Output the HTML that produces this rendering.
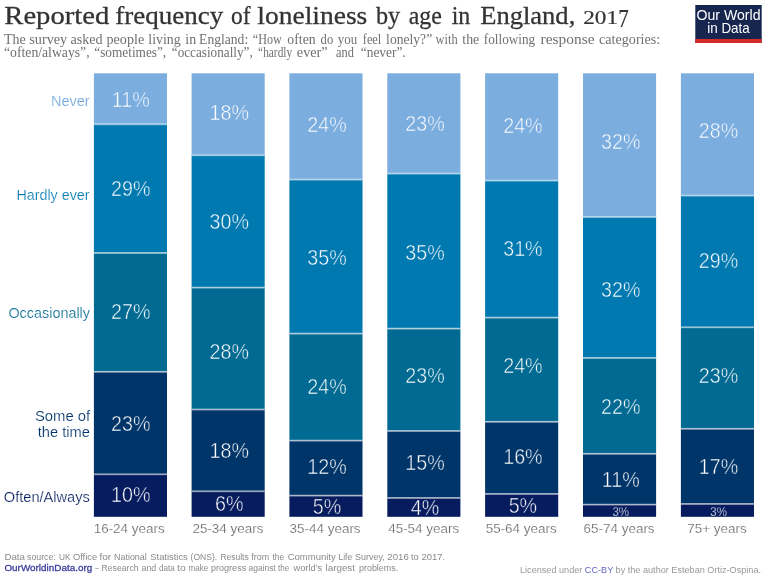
<!DOCTYPE html>
<html lang="en"><head><meta charset="utf-8"><title>Reported frequency of loneliness by age in England, 2017</title>
<style>
html,body{margin:0;padding:0;background:#fff;}
body{width:768px;height:577px;overflow:hidden;position:relative;font-family:"Liberation Sans",sans-serif;}
svg{position:absolute;left:0;top:0;display:block}
.t{font-family:"Liberation Serif",serif;}
.s{font-family:"Liberation Sans",sans-serif;}
</style></head><body>
<svg width="768" height="577" viewBox="0 0 768 577">
<rect width="768" height="577" fill="#fff"/>
<text class="t" x="4.3" y="23.7" font-size="25" fill="#333" stroke="#333" stroke-width="0.28" textLength="105.0" lengthAdjust="spacingAndGlyphs">Reported</text>
<text class="t" x="115.3" y="23.7" font-size="25" fill="#333" stroke="#333" stroke-width="0.28" textLength="108.0" lengthAdjust="spacingAndGlyphs">frequency</text>
<text class="t" x="231.0" y="23.7" font-size="25" fill="#333" stroke="#333" stroke-width="0.28" textLength="19.5" lengthAdjust="spacingAndGlyphs">of</text>
<text class="t" x="257.3" y="23.7" font-size="25" fill="#333" stroke="#333" stroke-width="0.28" textLength="110.0" lengthAdjust="spacingAndGlyphs">loneliness</text>
<text class="t" x="376.0" y="23.7" font-size="25" fill="#333" stroke="#333" stroke-width="0.28" textLength="24.2" lengthAdjust="spacingAndGlyphs">by</text>
<text class="t" x="408.7" y="23.7" font-size="25" fill="#333" stroke="#333" stroke-width="0.28" textLength="33.1" lengthAdjust="spacingAndGlyphs">age</text>
<text class="t" x="451.7" y="23.7" font-size="25" fill="#333" stroke="#333" stroke-width="0.28" textLength="18.6" lengthAdjust="spacingAndGlyphs">in</text>
<text class="t" x="480.2" y="23.7" font-size="25" fill="#333" stroke="#333" stroke-width="0.28" textLength="95.1" lengthAdjust="spacingAndGlyphs">England,</text>
<text class="t" x="583.2" y="23.7" font-size="18.6" fill="#333" stroke="#333" stroke-width="0.18" textLength="34.8" lengthAdjust="spacingAndGlyphs">201</text>
<text class="t" x="618.3" y="27.4" font-size="24.4" fill="#333" stroke="#333" stroke-width="0.18" textLength="10.5" lengthAdjust="spacingAndGlyphs">7</text>
<text class="t" x="3.9" y="43.6" font-size="13.8" fill="#707070"  textLength="21.7" lengthAdjust="spacingAndGlyphs">The</text>
<text class="t" x="29.3" y="43.6" font-size="13.8" fill="#707070"  textLength="37.9" lengthAdjust="spacingAndGlyphs">survey</text>
<text class="t" x="70.5" y="43.6" font-size="13.8" fill="#707070"  textLength="32.2" lengthAdjust="spacingAndGlyphs">asked</text>
<text class="t" x="106.5" y="43.6" font-size="13.8" fill="#707070"  textLength="37.7" lengthAdjust="spacingAndGlyphs">people</text>
<text class="t" x="148.3" y="43.6" font-size="13.8" fill="#707070"  textLength="32.4" lengthAdjust="spacingAndGlyphs">living</text>
<text class="t" x="185.3" y="43.6" font-size="13.8" fill="#707070"  textLength="10.9" lengthAdjust="spacingAndGlyphs">in</text>
<text class="t" x="199.1" y="43.6" font-size="13.8" fill="#707070"  textLength="49.1" lengthAdjust="spacingAndGlyphs">England:</text>
<text class="t" x="252.8" y="43.6" font-size="13.8" fill="#707070"  textLength="28.9" lengthAdjust="spacingAndGlyphs">“How</text>
<text class="t" x="287.3" y="43.6" font-size="13.8" fill="#707070"  textLength="28.4" lengthAdjust="spacingAndGlyphs">often</text>
<text class="t" x="320.6" y="43.6" font-size="13.8" fill="#707070"  textLength="12.6" lengthAdjust="spacingAndGlyphs">do</text>
<text class="t" x="337.8" y="43.6" font-size="13.8" fill="#707070"  textLength="19.4" lengthAdjust="spacingAndGlyphs">you</text>
<text class="t" x="362.8" y="43.6" font-size="13.8" fill="#707070"  textLength="18.4" lengthAdjust="spacingAndGlyphs">feel</text>
<text class="t" x="386.1" y="43.6" font-size="13.8" fill="#707070"  textLength="46.1" lengthAdjust="spacingAndGlyphs">lonely?”</text>
<text class="t" x="435.6" y="43.6" font-size="13.8" fill="#707070"  textLength="22.1" lengthAdjust="spacingAndGlyphs">with</text>
<text class="t" x="462.3" y="43.6" font-size="13.8" fill="#707070"  textLength="16.9" lengthAdjust="spacingAndGlyphs">the</text>
<text class="t" x="483.8" y="43.6" font-size="13.8" fill="#707070"  textLength="51.4" lengthAdjust="spacingAndGlyphs">following</text>
<text class="t" x="540.6" y="43.6" font-size="13.8" fill="#707070"  textLength="54.1" lengthAdjust="spacingAndGlyphs">response</text>
<text class="t" x="599.1" y="43.6" font-size="13.8" fill="#707070"  textLength="61.1" lengthAdjust="spacingAndGlyphs">categories:</text>
<text class="t" x="4.0" y="57.0" font-size="13.8" fill="#707070"  textLength="85.6" lengthAdjust="spacingAndGlyphs">“often/always”,</text>
<text class="t" x="94.3" y="57.0" font-size="13.8" fill="#707070"  textLength="71.9" lengthAdjust="spacingAndGlyphs">“sometimes”,</text>
<text class="t" x="171.8" y="57.0" font-size="13.8" fill="#707070"  textLength="80.9" lengthAdjust="spacingAndGlyphs">“occasionally”,</text>
<text class="t" x="258.1" y="57.0" font-size="13.8" fill="#707070"  textLength="34.1" lengthAdjust="spacingAndGlyphs">“hardly</text>
<text class="t" x="296.8" y="57.0" font-size="13.8" fill="#707070"  textLength="30.9" lengthAdjust="spacingAndGlyphs">ever”</text>
<text class="t" x="336.1" y="57.0" font-size="13.8" fill="#707070"  textLength="17.9" lengthAdjust="spacingAndGlyphs">and</text>
<text class="t" x="360.8" y="57.0" font-size="13.8" fill="#707070"  textLength="44.9" lengthAdjust="spacingAndGlyphs">“never”.</text>
<rect x="695.3" y="5" width="66.4" height="38" fill="#17264f"/>
<rect x="695.3" y="39" width="66.4" height="4" fill="#d62b2b"/>
<text class="s" x="728.5" y="19.6" font-size="13.9" fill="#fff" text-anchor="middle" textLength="64" lengthAdjust="spacingAndGlyphs">Our World</text>
<text class="s" x="728.5" y="33.3" font-size="13.9" fill="#fff" text-anchor="middle" textLength="42.5" lengthAdjust="spacingAndGlyphs">in Data</text>
<rect x="93.9" y="73.3" width="73.1" height="50.7" fill="#7baddf"/>
<rect x="93.9" y="124.0" width="73.1" height="128.7" fill="#0079b0"/>
<rect x="93.9" y="252.7" width="73.1" height="118.8" fill="#006a92"/>
<rect x="93.9" y="371.5" width="73.1" height="102.5" fill="#00356a"/>
<rect x="93.9" y="474.0" width="73.1" height="42.8" fill="#061c5e"/>
<rect x="93.9" y="123.45" width="73.1" height="1.7" fill="#fff" fill-opacity="0.6"/>
<rect x="93.9" y="252.15" width="73.1" height="1.7" fill="#fff" fill-opacity="0.6"/>
<rect x="93.9" y="370.95" width="73.1" height="1.7" fill="#fff" fill-opacity="0.6"/>
<rect x="93.9" y="473.45" width="73.1" height="1.7" fill="#fff" fill-opacity="0.6"/>
<text class="s" transform="translate(130.8,106.8) scale(0.93,1)" font-size="21.2" fill="#fff" stroke="#7baddf" stroke-width="0.5" text-anchor="middle">11%</text>
<text class="s" transform="translate(130.8,195.5) scale(0.93,1)" font-size="21.2" fill="#fff" stroke="#0079b0" stroke-width="0.5" text-anchor="middle">29%</text>
<text class="s" transform="translate(130.8,318.8) scale(0.93,1)" font-size="21.2" fill="#fff" stroke="#006a92" stroke-width="0.5" text-anchor="middle">27%</text>
<text class="s" transform="translate(130.8,430.9) scale(0.93,1)" font-size="21.2" fill="#fff" stroke="#00356a" stroke-width="0.5" text-anchor="middle">23%</text>
<text class="s" transform="translate(130.8,502.3) scale(0.93,1)" font-size="21.2" fill="#fff" stroke="#061c5e" stroke-width="0.5" text-anchor="middle">10%</text>
<text class="s" x="129.2" y="532.6" font-size="13.45" fill="#666" stroke="#fff" stroke-width="0.2" text-anchor="middle">16-24 years</text>
<rect x="191.6" y="73.3" width="73.1" height="81.7" fill="#7baddf"/>
<rect x="191.6" y="155.0" width="73.1" height="132.3" fill="#0079b0"/>
<rect x="191.6" y="287.3" width="73.1" height="121.9" fill="#006a92"/>
<rect x="191.6" y="409.2" width="73.1" height="81.8" fill="#00356a"/>
<rect x="191.6" y="491.0" width="73.1" height="25.8" fill="#061c5e"/>
<rect x="191.6" y="154.45" width="73.1" height="1.7" fill="#fff" fill-opacity="0.6"/>
<rect x="191.6" y="286.75" width="73.1" height="1.7" fill="#fff" fill-opacity="0.6"/>
<rect x="191.6" y="408.65" width="73.1" height="1.7" fill="#fff" fill-opacity="0.6"/>
<rect x="191.6" y="490.45" width="73.1" height="1.7" fill="#fff" fill-opacity="0.6"/>
<text class="s" transform="translate(229.3,119.9) scale(0.93,1)" font-size="21.2" fill="#fff" stroke="#7baddf" stroke-width="0.5" text-anchor="middle">18%</text>
<text class="s" transform="translate(229.3,228.9) scale(0.93,1)" font-size="21.2" fill="#fff" stroke="#0079b0" stroke-width="0.5" text-anchor="middle">30%</text>
<text class="s" transform="translate(229.3,358.9) scale(0.93,1)" font-size="21.2" fill="#fff" stroke="#006a92" stroke-width="0.5" text-anchor="middle">28%</text>
<text class="s" transform="translate(229.3,457.9) scale(0.93,1)" font-size="21.2" fill="#fff" stroke="#00356a" stroke-width="0.5" text-anchor="middle">18%</text>
<text class="s" transform="translate(229.3,511.3) scale(0.93,1)" font-size="21.2" fill="#fff" stroke="#061c5e" stroke-width="0.5" text-anchor="middle">6%</text>
<text class="s" x="227.9" y="532.6" font-size="13.45" fill="#666" stroke="#fff" stroke-width="0.2" text-anchor="middle">25-34 years</text>
<rect x="289.4" y="73.3" width="73.1" height="106.0" fill="#7baddf"/>
<rect x="289.4" y="179.3" width="73.1" height="154.0" fill="#0079b0"/>
<rect x="289.4" y="333.3" width="73.1" height="107.0" fill="#006a92"/>
<rect x="289.4" y="440.3" width="73.1" height="55.0" fill="#00356a"/>
<rect x="289.4" y="495.3" width="73.1" height="21.5" fill="#061c5e"/>
<rect x="289.4" y="178.75" width="73.1" height="1.7" fill="#fff" fill-opacity="0.6"/>
<rect x="289.4" y="332.75" width="73.1" height="1.7" fill="#fff" fill-opacity="0.6"/>
<rect x="289.4" y="439.75" width="73.1" height="1.7" fill="#fff" fill-opacity="0.6"/>
<rect x="289.4" y="494.75" width="73.1" height="1.7" fill="#fff" fill-opacity="0.6"/>
<text class="s" transform="translate(327.1,131.6) scale(0.93,1)" font-size="21.2" fill="#fff" stroke="#7baddf" stroke-width="0.5" text-anchor="middle">24%</text>
<text class="s" transform="translate(327.1,264.6) scale(0.93,1)" font-size="21.2" fill="#fff" stroke="#0079b0" stroke-width="0.5" text-anchor="middle">35%</text>
<text class="s" transform="translate(327.1,393.9) scale(0.93,1)" font-size="21.2" fill="#fff" stroke="#006a92" stroke-width="0.5" text-anchor="middle">24%</text>
<text class="s" transform="translate(327.1,473.9) scale(0.93,1)" font-size="21.2" fill="#fff" stroke="#00356a" stroke-width="0.5" text-anchor="middle">12%</text>
<text class="s" transform="translate(327.1,513.9) scale(0.93,1)" font-size="21.2" fill="#fff" stroke="#061c5e" stroke-width="0.5" text-anchor="middle">5%</text>
<text class="s" x="325.1" y="532.6" font-size="13.45" fill="#666" stroke="#fff" stroke-width="0.2" text-anchor="middle">35-44 years</text>
<rect x="387.3" y="73.3" width="73.1" height="100.0" fill="#7baddf"/>
<rect x="387.3" y="173.3" width="73.1" height="155.0" fill="#0079b0"/>
<rect x="387.3" y="328.3" width="73.1" height="102.4" fill="#006a92"/>
<rect x="387.3" y="430.7" width="73.1" height="67.0" fill="#00356a"/>
<rect x="387.3" y="497.7" width="73.1" height="19.1" fill="#061c5e"/>
<rect x="387.3" y="172.75" width="73.1" height="1.7" fill="#fff" fill-opacity="0.6"/>
<rect x="387.3" y="327.75" width="73.1" height="1.7" fill="#fff" fill-opacity="0.6"/>
<rect x="387.3" y="430.15" width="73.1" height="1.7" fill="#fff" fill-opacity="0.6"/>
<rect x="387.3" y="497.15" width="73.1" height="1.7" fill="#fff" fill-opacity="0.6"/>
<text class="s" transform="translate(425.1,130.6) scale(0.93,1)" font-size="21.2" fill="#fff" stroke="#7baddf" stroke-width="0.5" text-anchor="middle">23%</text>
<text class="s" transform="translate(425.1,259.6) scale(0.93,1)" font-size="21.2" fill="#fff" stroke="#0079b0" stroke-width="0.5" text-anchor="middle">35%</text>
<text class="s" transform="translate(425.1,382.9) scale(0.93,1)" font-size="21.2" fill="#fff" stroke="#006a92" stroke-width="0.5" text-anchor="middle">23%</text>
<text class="s" transform="translate(425.1,469.9) scale(0.93,1)" font-size="21.2" fill="#fff" stroke="#00356a" stroke-width="0.5" text-anchor="middle">15%</text>
<text class="s" transform="translate(425.1,514.9) scale(0.93,1)" font-size="21.2" fill="#fff" stroke="#061c5e" stroke-width="0.5" text-anchor="middle">4%</text>
<text class="s" x="423.7" y="532.6" font-size="13.45" fill="#666" stroke="#fff" stroke-width="0.2" text-anchor="middle">45-54 years</text>
<rect x="485.1" y="73.3" width="73.1" height="107.0" fill="#7baddf"/>
<rect x="485.1" y="180.3" width="73.1" height="137.0" fill="#0079b0"/>
<rect x="485.1" y="317.3" width="73.1" height="104.2" fill="#006a92"/>
<rect x="485.1" y="421.5" width="73.1" height="72.2" fill="#00356a"/>
<rect x="485.1" y="493.7" width="73.1" height="23.1" fill="#061c5e"/>
<rect x="485.1" y="179.75" width="73.1" height="1.7" fill="#fff" fill-opacity="0.6"/>
<rect x="485.1" y="316.75" width="73.1" height="1.7" fill="#fff" fill-opacity="0.6"/>
<rect x="485.1" y="420.95" width="73.1" height="1.7" fill="#fff" fill-opacity="0.6"/>
<rect x="485.1" y="493.15" width="73.1" height="1.7" fill="#fff" fill-opacity="0.6"/>
<text class="s" transform="translate(522.9,133.3) scale(0.93,1)" font-size="21.2" fill="#fff" stroke="#7baddf" stroke-width="0.5" text-anchor="middle">24%</text>
<text class="s" transform="translate(522.9,255.6) scale(0.93,1)" font-size="21.2" fill="#fff" stroke="#0079b0" stroke-width="0.5" text-anchor="middle">31%</text>
<text class="s" transform="translate(522.9,372.9) scale(0.93,1)" font-size="21.2" fill="#fff" stroke="#006a92" stroke-width="0.5" text-anchor="middle">24%</text>
<text class="s" transform="translate(522.9,464.1) scale(0.93,1)" font-size="21.2" fill="#fff" stroke="#00356a" stroke-width="0.5" text-anchor="middle">16%</text>
<text class="s" transform="translate(522.9,512.9) scale(0.93,1)" font-size="21.2" fill="#fff" stroke="#061c5e" stroke-width="0.5" text-anchor="middle">5%</text>
<text class="s" x="521.2" y="532.6" font-size="13.45" fill="#666" stroke="#fff" stroke-width="0.2" text-anchor="middle">55-64 years</text>
<rect x="583.0" y="73.3" width="73.1" height="143.4" fill="#7baddf"/>
<rect x="583.0" y="216.7" width="73.1" height="141.0" fill="#0079b0"/>
<rect x="583.0" y="357.7" width="73.1" height="95.8" fill="#006a92"/>
<rect x="583.0" y="453.5" width="73.1" height="50.8" fill="#00356a"/>
<rect x="583.0" y="504.3" width="73.1" height="12.5" fill="#061c5e"/>
<rect x="583.0" y="216.15" width="73.1" height="1.7" fill="#fff" fill-opacity="0.6"/>
<rect x="583.0" y="357.15" width="73.1" height="1.7" fill="#fff" fill-opacity="0.6"/>
<rect x="583.0" y="452.95" width="73.1" height="1.7" fill="#fff" fill-opacity="0.6"/>
<rect x="583.0" y="503.75" width="73.1" height="1.7" fill="#fff" fill-opacity="0.6"/>
<text class="s" transform="translate(620.8,148.9) scale(0.93,1)" font-size="21.2" fill="#fff" stroke="#7baddf" stroke-width="0.5" text-anchor="middle">32%</text>
<text class="s" transform="translate(620.8,297.3) scale(0.93,1)" font-size="21.2" fill="#fff" stroke="#0079b0" stroke-width="0.5" text-anchor="middle">32%</text>
<text class="s" transform="translate(620.8,413.9) scale(0.93,1)" font-size="21.2" fill="#fff" stroke="#006a92" stroke-width="0.5" text-anchor="middle">22%</text>
<text class="s" transform="translate(620.8,487.3) scale(0.93,1)" font-size="21.2" fill="#fff" stroke="#00356a" stroke-width="0.5" text-anchor="middle">11%</text>
<text class="s" transform="translate(620.8,516.2) scale(0.93,1)" font-size="12.4" fill="#fff" stroke="#061c5e" stroke-width="0.3" text-anchor="middle">3%</text>
<text class="s" x="619.1" y="532.6" font-size="13.45" fill="#666" stroke="#fff" stroke-width="0.2" text-anchor="middle">65-74 years</text>
<rect x="680.9" y="73.3" width="73.1" height="122.0" fill="#7baddf"/>
<rect x="680.9" y="195.3" width="73.1" height="131.7" fill="#0079b0"/>
<rect x="680.9" y="327.0" width="73.1" height="101.5" fill="#006a92"/>
<rect x="680.9" y="428.5" width="73.1" height="75.2" fill="#00356a"/>
<rect x="680.9" y="503.7" width="73.1" height="13.1" fill="#061c5e"/>
<rect x="680.9" y="194.75" width="73.1" height="1.7" fill="#fff" fill-opacity="0.6"/>
<rect x="680.9" y="326.45" width="73.1" height="1.7" fill="#fff" fill-opacity="0.6"/>
<rect x="680.9" y="427.95" width="73.1" height="1.7" fill="#fff" fill-opacity="0.6"/>
<rect x="680.9" y="503.15" width="73.1" height="1.7" fill="#fff" fill-opacity="0.6"/>
<text class="s" transform="translate(718.6,137.9) scale(0.93,1)" font-size="21.2" fill="#fff" stroke="#7baddf" stroke-width="0.5" text-anchor="middle">28%</text>
<text class="s" transform="translate(718.6,267.9) scale(0.93,1)" font-size="21.2" fill="#fff" stroke="#0079b0" stroke-width="0.5" text-anchor="middle">29%</text>
<text class="s" transform="translate(718.6,382.9) scale(0.93,1)" font-size="21.2" fill="#fff" stroke="#006a92" stroke-width="0.5" text-anchor="middle">23%</text>
<text class="s" transform="translate(718.6,473.9) scale(0.93,1)" font-size="21.2" fill="#fff" stroke="#00356a" stroke-width="0.5" text-anchor="middle">17%</text>
<text class="s" transform="translate(718.6,515.7) scale(0.93,1)" font-size="12.4" fill="#fff" stroke="#061c5e" stroke-width="0.3" text-anchor="middle">3%</text>
<text class="s" x="717.0" y="532.6" font-size="13.45" fill="#666" stroke="#fff" stroke-width="0.2" text-anchor="middle">75+ years</text>
<text class="s" x="89.6" y="105.7" font-size="14.5" fill="#6ea6dc" stroke="#fff" stroke-width="0.2" text-anchor="end">Never</text>
<text class="s" x="89.5" y="199.8" font-size="14.3" fill="#0079b0" stroke="#fff" stroke-width="0.2" text-anchor="end">Hardly ever</text>
<text class="s" x="90" y="318" font-size="14.4" fill="#006a92" stroke="#fff" stroke-width="0.2" text-anchor="end">Occasionally</text>
<text class="s" x="90.2" y="421" font-size="14.85" fill="#00356a" stroke="#fff" stroke-width="0.2" text-anchor="end">Some of</text>
<text class="s" x="89.9" y="436.5" font-size="14.7" fill="#00356a" stroke="#fff" stroke-width="0.2" text-anchor="end">the time</text>
<text class="s" x="89.8" y="502" font-size="14.6" fill="#061c5e" stroke="#fff" stroke-width="0.2" text-anchor="end">Often/Always</text>
<text class="s" x="4.4" y="560.1" font-size="9.6" fill="#8a8a8a"  textLength="20.6" lengthAdjust="spacingAndGlyphs">Data</text>
<text class="s" x="27.0" y="560.1" font-size="9.6" fill="#8a8a8a"  textLength="28.8" lengthAdjust="spacingAndGlyphs">source:</text>
<text class="s" x="59.0" y="560.1" font-size="9.6" fill="#8a8a8a"  textLength="11.5" lengthAdjust="spacingAndGlyphs">UK</text>
<text class="s" x="72.9" y="560.1" font-size="9.6" fill="#8a8a8a"  textLength="24.3" lengthAdjust="spacingAndGlyphs">Office</text>
<text class="s" x="99.5" y="560.1" font-size="9.6" fill="#8a8a8a"  textLength="11.7" lengthAdjust="spacingAndGlyphs">for</text>
<text class="s" x="114.0" y="560.1" font-size="9.6" fill="#8a8a8a"  textLength="32.8" lengthAdjust="spacingAndGlyphs">National</text>
<text class="s" x="150.3" y="560.1" font-size="9.6" fill="#8a8a8a"  textLength="37.5" lengthAdjust="spacingAndGlyphs">Statistics</text>
<text class="s" x="190.6" y="560.1" font-size="9.6" fill="#8a8a8a"  textLength="26.6" lengthAdjust="spacingAndGlyphs">(ONS).</text>
<text class="s" x="220.4" y="560.1" font-size="9.6" fill="#8a8a8a"  textLength="28.3" lengthAdjust="spacingAndGlyphs">Results</text>
<text class="s" x="251.3" y="560.1" font-size="9.6" fill="#8a8a8a"  textLength="17.7" lengthAdjust="spacingAndGlyphs">from</text>
<text class="s" x="272.5" y="560.1" font-size="9.6" fill="#8a8a8a"  textLength="11.8" lengthAdjust="spacingAndGlyphs">the</text>
<text class="s" x="287.7" y="560.1" font-size="9.6" fill="#8a8a8a"  textLength="48.0" lengthAdjust="spacingAndGlyphs">Community</text>
<text class="s" x="338.4" y="560.1" font-size="9.6" fill="#8a8a8a"  textLength="13.8" lengthAdjust="spacingAndGlyphs">Life</text>
<text class="s" x="355.0" y="560.1" font-size="9.6" fill="#8a8a8a"  textLength="29.7" lengthAdjust="spacingAndGlyphs">Survey,</text>
<text class="s" x="387.3" y="560.1" font-size="9.6" fill="#8a8a8a"  textLength="21.5" lengthAdjust="spacingAndGlyphs">2016</text>
<text class="s" x="411.0" y="560.1" font-size="9.6" fill="#8a8a8a"  textLength="7.8" lengthAdjust="spacingAndGlyphs">to</text>
<text class="s" x="421.4" y="560.1" font-size="9.6" fill="#8a8a8a"  textLength="23.8" lengthAdjust="spacingAndGlyphs">2017.</text>
<text class="s" x="4.4" y="570.6" font-size="9.6" fill="#3d40a0" stroke="#3d40a0" stroke-width="0.3" textLength="87.8" lengthAdjust="spacingAndGlyphs">OurWorldinData.org</text>
<text class="s" x="95.3" y="570.6" font-size="9.6" fill="#8a8a8a"  textLength="3.5" lengthAdjust="spacingAndGlyphs">–</text>
<text class="s" x="101.5" y="570.6" font-size="9.6" fill="#8a8a8a"  textLength="37.2" lengthAdjust="spacingAndGlyphs">Research</text>
<text class="s" x="141.5" y="570.6" font-size="9.6" fill="#8a8a8a"  textLength="14.7" lengthAdjust="spacingAndGlyphs">and</text>
<text class="s" x="159.0" y="570.6" font-size="9.6" fill="#8a8a8a"  textLength="15.7" lengthAdjust="spacingAndGlyphs">data</text>
<text class="s" x="177.0" y="570.6" font-size="9.6" fill="#8a8a8a"  textLength="8.7" lengthAdjust="spacingAndGlyphs">to</text>
<text class="s" x="188.5" y="570.6" font-size="9.6" fill="#8a8a8a"  textLength="19.7" lengthAdjust="spacingAndGlyphs">make</text>
<text class="s" x="211.0" y="570.6" font-size="9.6" fill="#8a8a8a"  textLength="35.2" lengthAdjust="spacingAndGlyphs">progress</text>
<text class="s" x="248.5" y="570.6" font-size="9.6" fill="#8a8a8a"  textLength="27.2" lengthAdjust="spacingAndGlyphs">against</text>
<text class="s" x="278.0" y="570.6" font-size="9.6" fill="#8a8a8a"  textLength="11.2" lengthAdjust="spacingAndGlyphs">the</text>
<text class="s" x="293.5" y="570.6" font-size="9.6" fill="#8a8a8a"  textLength="28.7" lengthAdjust="spacingAndGlyphs">world’s</text>
<text class="s" x="325.5" y="570.6" font-size="9.6" fill="#8a8a8a"  textLength="29.5" lengthAdjust="spacingAndGlyphs">largest</text>
<text class="s" x="359.0" y="570.6" font-size="9.6" fill="#8a8a8a"  textLength="39.2" lengthAdjust="spacingAndGlyphs">problems.</text>
<text class="s" x="520" y="572.6" font-size="9.7" fill="#989898" textLength="241" lengthAdjust="spacingAndGlyphs">Licensed under <tspan fill="#6065c4">CC-BY</tspan> by the author Esteban Ortiz-Ospina.</text>
</svg>
</body></html>
